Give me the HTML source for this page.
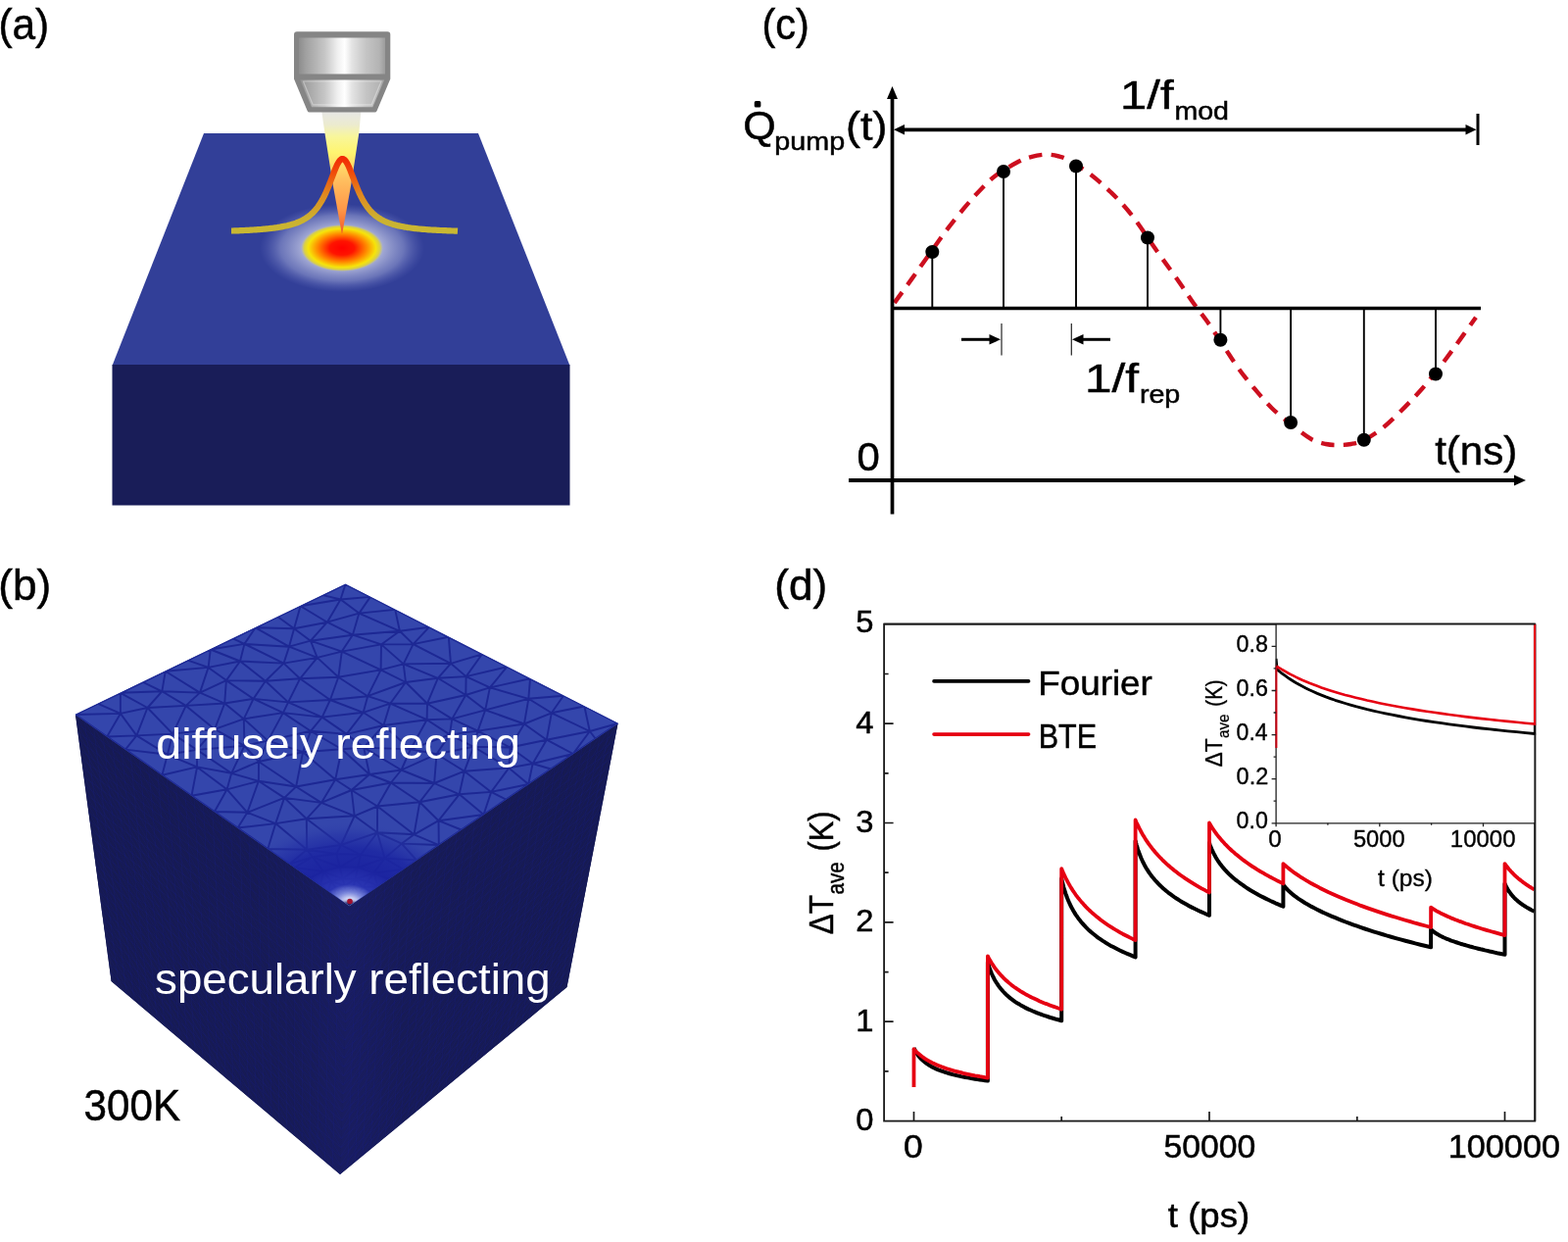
<!DOCTYPE html>
<html lang="en">
<head>
<meta charset="utf-8">
<title>Figure: pump heating, mesh, modulation and temperature rise</title>
<style>
html,body{margin:0;padding:0;background:#fff;}
body{width:1600px;height:1267px;overflow:hidden;}
svg{display:block;}
text{font-family:"Liberation Sans",sans-serif;}
</style>
</head>
<body>
<svg width="1600" height="1267" viewBox="0 0 1600 1267">
<defs>
<radialGradient id="glow" cx="0.5" cy="0.5" r="0.5">
<stop offset="0" stop-color="#fff" stop-opacity="0.8"/>
<stop offset="0.45" stop-color="#e8eaf8" stop-opacity="0.68"/>
<stop offset="0.75" stop-color="#c0c6ea" stop-opacity="0.4"/>
<stop offset="1" stop-color="#8088d0" stop-opacity="0"/>
</radialGradient>
<radialGradient id="hot" cx="0.5" cy="0.5" r="0.5">
<stop offset="0" stop-color="#ff0000"/>
<stop offset="0.3" stop-color="#ff1400"/>
<stop offset="0.6" stop-color="#ff8a00"/>
<stop offset="0.82" stop-color="#f6e40a"/>
<stop offset="0.92" stop-color="#e6d820" stop-opacity="0.8"/>
<stop offset="1" stop-color="#d8d060" stop-opacity="0"/>
</radialGradient>
<linearGradient id="beam" x1="0" y1="115" x2="0" y2="238" gradientUnits="userSpaceOnUse">
<stop offset="0" stop-color="#e6e6e2" stop-opacity="0.95"/>
<stop offset="0.1" stop-color="#ecebcf"/>
<stop offset="0.2" stop-color="#f8f69a"/>
<stop offset="0.33" stop-color="#fff570"/>
<stop offset="0.55" stop-color="#ffc060"/>
<stop offset="0.8" stop-color="#ff9848"/>
<stop offset="1" stop-color="#f05a28"/>
</linearGradient>
<linearGradient id="gauss" x1="0" y1="160" x2="0" y2="238" gradientUnits="userSpaceOnUse">
<stop offset="0" stop-color="#f22a05"/>
<stop offset="0.2" stop-color="#f04a0a"/>
<stop offset="0.5" stop-color="#e08a20"/>
<stop offset="0.8" stop-color="#ccb030"/>
<stop offset="1" stop-color="#c8b832"/>
</linearGradient>
<linearGradient id="metal" x1="305" y1="0" x2="393" y2="0" gradientUnits="userSpaceOnUse">
<stop offset="0" stop-color="#8e8e8e"/>
<stop offset="0.08" stop-color="#a0a0a0"/>
<stop offset="0.3" stop-color="#c6c6c6"/>
<stop offset="0.45" stop-color="#f0f0f0"/>
<stop offset="0.53" stop-color="#ffffff"/>
<stop offset="0.62" stop-color="#e2e2e2"/>
<stop offset="0.78" stop-color="#c4c4c4"/>
<stop offset="0.93" stop-color="#b4b4b4"/>
<stop offset="1" stop-color="#9c9c9c"/>
</linearGradient>
<clipPath id="ctop"><polygon points="352.5,596 630.5,738 356.5,924 77,729"/></clipPath>
<linearGradient id="gl" x1="77" y1="0" x2="356" y2="0" gradientUnits="userSpaceOnUse">
<stop offset="0" stop-color="#161a52"/><stop offset="0.8" stop-color="#171b56"/><stop offset="1" stop-color="#191d60"/></linearGradient>
<linearGradient id="gr" x1="356" y1="0" x2="630" y2="0" gradientUnits="userSpaceOnUse">
<stop offset="0" stop-color="#191d60"/><stop offset="0.2" stop-color="#171b56"/><stop offset="1" stop-color="#161a52"/></linearGradient>
<radialGradient id="fun" cx="0" cy="0" r="0.3" gradientUnits="userSpaceOnUse">
<stop offset="0" stop-color="#ffffff" stop-opacity="0.95"/>
<stop offset="0.05" stop-color="#dfe4ff" stop-opacity="0.9"/>
<stop offset="0.12" stop-color="#8894e6" stop-opacity="0.85"/>
<stop offset="0.22" stop-color="#2a34b4" stop-opacity="0.9"/>
<stop offset="0.45" stop-color="#1a22a0" stop-opacity="0.92"/>
<stop offset="0.68" stop-color="#1c26a2" stop-opacity="0.85"/>
<stop offset="0.85" stop-color="#2430a6" stop-opacity="0.5"/>
<stop offset="1" stop-color="#3040aa" stop-opacity="0"/>
</radialGradient>
<filter id="blur2" x="-30%" y="-30%" width="160%" height="160%"><feGaussianBlur stdDeviation="1.6"/></filter>
<filter id="blur4" x="-20%" y="-20%" width="140%" height="140%"><feGaussianBlur stdDeviation="4"/></filter>
<clipPath id="cins"><rect x="1301.8" y="636.6" width="265.5" height="203.2"/></clipPath>
</defs>
<rect width="1600" height="1267" fill="#fff"/>
<g id="panel-a">
<text x="-1.6" y="39.6" font-size="45" textLength="51.8" lengthAdjust="spacingAndGlyphs" stroke="#000" stroke-width="0.5">(a)</text>
<polygon points="208,136 488,136 581.3,372.5 114.7,372.5" fill="#323f98"/>
<rect x="114.5" y="372" width="467" height="143.5" fill="#191d58"/>
<ellipse cx="349" cy="253" rx="84" ry="45" fill="url(#glow)"/>
<ellipse cx="349" cy="253" rx="42" ry="24" fill="url(#hot)"/>
<path d="M328.3,114 L368.3,114 L366.3,136 Q359,188 349.3,238 L348.7,238 Q339,188 331.5,136 Z" fill="url(#beam)"/>
<path d="M236,235.5 L237.5,235.5 L239,235.4 L240.5,235.4 L242,235.3 L243.5,235.3 L245,235.2 L246.5,235.1 L248,235.1 L249.5,235 L251,234.9 L252.5,234.9 L254,234.8 L255.5,234.7 L257,234.6 L258.5,234.5 L260,234.4 L261.5,234.3 L263,234.2 L264.5,234.1 L266,234 L267.5,233.8 L269,233.7 L270.5,233.6 L272,233.4 L273.5,233.3 L275,233.1 L276.5,232.9 L278,232.8 L279.5,232.6 L281,232.4 L282.5,232.2 L284,231.9 L285.5,231.7 L287,231.4 L288.5,231.1 L290,230.8 L291.5,230.5 L293,230.2 L294.5,229.8 L296,229.4 L297.5,229 L299,228.6 L300.5,228.1 L302,227.6 L303.5,227 L305,226.4 L306.5,225.7 L308,225 L309.5,224.2 L311,223.3 L312.5,222.4 L314,221.4 L315.5,220.3 L317,219 L318.5,217.7 L320,216.2 L321.5,214.6 L323,212.8 L324.5,210.8 L326,208.6 L327.5,206.2 L329,203.6 L330.5,200.8 L332,197.7 L333.5,194.3 L335,190.7 L336.5,187 L338,183 L339.5,179.1 L341,175.2 L342.5,171.5 L344,168.1 L345.5,165.4 L347,163.4 L348.5,162.2 L350,162.1 L351.5,162.9 L353,164.6 L354.5,167.1 L356,170.3 L357.5,173.9 L359,177.8 L360.5,181.7 L362,185.7 L363.5,189.5 L365,193.1 L366.5,196.6 L368,199.8 L369.5,202.7 L371,205.4 L372.5,207.8 L374,210.1 L375.5,212.1 L377,214 L378.5,215.7 L380,217.2 L381.5,218.6 L383,219.9 L384.5,221 L386,222.1 L387.5,223 L389,223.9 L390.5,224.7 L392,225.5 L393.5,226.2 L395,226.8 L396.5,227.4 L398,227.9 L399.5,228.4 L401,228.9 L402.5,229.3 L404,229.7 L405.5,230.1 L407,230.4 L408.5,230.7 L410,231 L411.5,231.3 L413,231.6 L414.5,231.8 L416,232.1 L417.5,232.3 L419,232.5 L420.5,232.7 L422,232.9 L423.5,233.1 L425,233.2 L426.5,233.4 L428,233.5 L429.5,233.7 L431,233.8 L432.5,233.9 L434,234 L435.5,234.2 L437,234.3 L438.5,234.4 L440,234.5 L441.5,234.6 L443,234.7 L444.5,234.7 L446,234.8 L447.5,234.9 L449,235 L450.5,235 L452,235.1 L453.5,235.2 L455,235.2 L456.5,235.3 L458,235.4 L459.5,235.4 L461,235.5 L462.5,235.5 L464,235.6 L465.5,235.6 L467,235.7" fill="none" stroke="url(#gauss)" stroke-width="6.2" stroke-linejoin="round"/>
<path d="M303,32.3 H395.3 Q398.3,32.3 398.3,35.3 V80.5 L384.6,113 Q384,114.6 382.5,114.6 H315.7 Q314.2,114.6 313.6,113 L300,80.5 V35.3 Q300,32.3 303,32.3 Z" fill="#858585"/>
<rect x="305" y="38.5" width="88" height="37" fill="url(#metal)"/>
<path d="M306.2,81.6 H392.2 L380.3,109.3 H318 Z" fill="url(#metal)"/>
<path d="M309.5,83 H389 L379.2,106.8 H319.2 Z" fill="none" stroke="#fff" stroke-opacity="0.35" stroke-width="1.2"/>
</g>
<g id="panel-b">
<text x="-1.7" y="612" font-size="45" textLength="53.9" lengthAdjust="spacingAndGlyphs" stroke="#000" stroke-width="0.5">(b)</text>
<polygon points="352.5,596 630.5,738 578.5,1007 347,1198 113.6,1001 77,729" fill="#171b56"/>
<polygon points="77,729 356.5,924 347,1198 113.6,1001" fill="url(#gl)"/>
<polygon points="356.5,924 630.5,738 578.5,1007 347,1198" fill="url(#gr)"/>
<polygon points="352.5,596 630.5,738 356.5,924 77,729" fill="#3446ac" stroke="#3040a4" stroke-width="0.8"/>
<path d="M86.3,735.5L121.4,1007.6M95.6,742L129.2,1014.1M104.9,748.5L136.9,1020.7M114.3,755L144.7,1027.3M123.6,761.5L152.5,1033.8M132.9,768L160.3,1040.4M142.2,774.5L168.1,1047M151.5,781L175.8,1053.5M160.8,787.5L183.6,1060.1M170.2,794L191.4,1066.7M179.5,800.5L199.2,1073.2M188.8,807L207,1079.8M198.1,813.5L214.7,1086.4M207.4,820L222.5,1092.9M216.8,826.5L230.3,1099.5M226.1,833L238.1,1106.1M235.4,839.5L245.9,1112.6M244.7,846L253.6,1119.2M254,852.5L261.4,1125.8M263.3,859L269.2,1132.3M272.6,865.5L277,1138.9M282,872L284.8,1145.5M291.3,878.5L292.5,1152M300.6,885L300.3,1158.6M309.9,891.5L308.1,1165.2M319.2,898L315.9,1171.7M328.6,904.5L323.7,1178.3M337.9,911L331.4,1184.9M347.2,917.5L339.2,1191.4M78.2,738.1L356.2,933.1M79.4,747.1L355.9,942.3M80.7,756.2L355.6,951.4M81.9,765.3L355.2,960.5M83.1,774.3L354.9,969.7M84.3,783.4L354.6,978.8M85.5,792.5L354.3,987.9M86.8,801.5L354,997.1M88,810.6L353.6,1006.2M89.2,819.7L353.3,1015.3M90.4,828.7L353,1024.5M91.6,837.8L352.7,1033.6M92.9,846.9L352.4,1042.7M94.1,855.9L352.1,1051.9M95.3,865L351.8,1061M96.5,874.1L351.4,1070.1M97.7,883.1L351.1,1079.3M99,892.2L350.8,1088.4M100.2,901.3L350.5,1097.5M101.4,910.3L350.2,1106.7M102.6,919.4L349.9,1115.8M103.8,928.5L349.5,1124.9M105.1,937.5L349.2,1134.1M106.3,946.6L348.9,1143.2M107.5,955.7L348.6,1152.3M108.7,964.7L348.3,1161.5M109.9,973.8L347.9,1170.6M111.2,982.9L347.6,1179.7M112.4,991.9L347.3,1188.9M112.4,991.9L121.4,1007.6M111.2,982.9L129.2,1014.1M109.9,973.8L136.9,1020.7M108.7,964.7L144.7,1027.3M107.5,955.7L152.5,1033.8M106.3,946.6L160.3,1040.4M105.1,937.5L168.1,1047M103.8,928.5L175.8,1053.5M102.6,919.4L183.6,1060.1M101.4,910.3L191.4,1066.7M100.2,901.3L199.2,1073.2M99,892.2L207,1079.8M97.7,883.1L214.7,1086.4M96.5,874.1L222.5,1092.9M95.3,865L230.3,1099.5M94.1,855.9L238.1,1106.1M92.9,846.9L245.9,1112.6M91.6,837.8L253.6,1119.2M90.4,828.7L261.4,1125.8M89.2,819.7L269.2,1132.3M88,810.6L277,1138.9M86.8,801.5L284.8,1145.5M85.5,792.5L292.5,1152M84.3,783.4L300.3,1158.6M83.1,774.3L308.1,1165.2M81.9,765.3L315.9,1171.7M80.7,756.2L323.7,1178.3M79.4,747.1L331.4,1184.9M78.2,738.1L339.2,1191.4M77,729L347,1198M86.3,735.5L347.3,1188.9M95.6,742L347.6,1179.7M104.9,748.5L347.9,1170.6M114.3,755L348.3,1161.5M123.6,761.5L348.6,1152.3M132.9,768L348.9,1143.2M142.2,774.5L349.2,1134.1M151.5,781L349.5,1124.9M160.8,787.5L349.9,1115.8M170.2,794L350.2,1106.7M179.5,800.5L350.5,1097.5M188.8,807L350.8,1088.4M198.1,813.5L351.1,1079.3M207.4,820L351.4,1070.1M216.8,826.5L351.8,1061M226.1,833L352.1,1051.9M235.4,839.5L352.4,1042.7M244.7,846L352.7,1033.6M254,852.5L353,1024.5M263.3,859L353.3,1015.3M272.6,865.5L353.6,1006.2M282,872L354,997.1M291.3,878.5L354.3,987.9M300.6,885L354.6,978.8M309.9,891.5L354.9,969.7M319.2,898L355.2,960.5M328.6,904.5L355.6,951.4M337.9,911L355.9,942.3M347.2,917.5L356.2,933.1" fill="none" stroke="#1c22a0" stroke-opacity="0.16" stroke-width="0.9"/>
<path d="M621.4,744.2L570.8,1013.4M612.2,750.4L563.1,1019.7M603.1,756.6L555.4,1026.1M594,762.8L547.6,1032.5M584.8,769L539.9,1038.8M575.7,775.2L532.2,1045.2M566.6,781.4L524.5,1051.6M557.4,787.6L516.8,1057.9M548.3,793.8L509,1064.3M539.2,800L501.3,1070.7M530,806.2L493.6,1077M520.9,812.4L485.9,1083.4M511.8,818.6L478.2,1089.8M502.6,824.8L470.5,1096.1M493.5,831L462.8,1102.5M484.4,837.2L455,1108.9M475.2,843.4L447.3,1115.2M466.1,849.6L439.6,1121.6M457,855.8L431.9,1128M447.8,862L424.2,1134.3M438.7,868.2L416.5,1140.7M429.6,874.4L408.7,1147.1M420.4,880.6L401,1153.4M411.3,886.8L393.3,1159.8M402.2,893L385.6,1166.2M393,899.2L377.9,1172.5M383.9,905.4L370.1,1178.9M374.8,911.6L362.4,1185.3M365.6,917.8L354.7,1191.6M628.8,747L356.2,933.1M627,755.9L355.9,942.3M625.3,764.9L355.6,951.4M623.6,773.9L355.2,960.5M621.8,782.8L354.9,969.7M620.1,791.8L354.6,978.8M618.4,800.8L354.3,987.9M616.6,809.7L354,997.1M614.9,818.7L353.6,1006.2M613.2,827.7L353.3,1015.3M611.4,836.6L353,1024.5M609.7,845.6L352.7,1033.6M608,854.6L352.4,1042.7M606.2,863.5L352.1,1051.9M604.5,872.5L351.8,1061M602.8,881.5L351.4,1070.1M601,890.4L351.1,1079.3M599.3,899.4L350.8,1088.4M597.6,908.4L350.5,1097.5M595.8,917.3L350.2,1106.7M594.1,926.3L349.9,1115.8M592.4,935.3L349.5,1124.9M590.6,944.2L349.2,1134.1M588.9,953.2L348.9,1143.2M587.2,962.2L348.6,1152.3M585.4,971.1L348.3,1161.5M583.7,980.1L347.9,1170.6M582,989.1L347.6,1179.7M580.2,998L347.3,1188.9M580.2,998L570.8,1013.4M582,989.1L563.1,1019.7M583.7,980.1L555.4,1026.1M585.4,971.1L547.6,1032.5M587.2,962.2L539.9,1038.8M588.9,953.2L532.2,1045.2M590.6,944.2L524.5,1051.6M592.4,935.3L516.8,1057.9M594.1,926.3L509,1064.3M595.8,917.3L501.3,1070.7M597.6,908.4L493.6,1077M599.3,899.4L485.9,1083.4M601,890.4L478.2,1089.8M602.8,881.5L470.5,1096.1M604.5,872.5L462.8,1102.5M606.2,863.5L455,1108.9M608,854.6L447.3,1115.2M609.7,845.6L439.6,1121.6M611.4,836.6L431.9,1128M613.2,827.7L424.2,1134.3M614.9,818.7L416.5,1140.7M616.6,809.7L408.7,1147.1M618.4,800.8L401,1153.4M620.1,791.8L393.3,1159.8M621.8,782.8L385.6,1166.2M623.6,773.9L377.9,1172.5M625.3,764.9L370.1,1178.9M627,755.9L362.4,1185.3M628.8,747L354.7,1191.6M630.5,738L347,1198M621.4,744.2L347.3,1188.9M612.2,750.4L347.6,1179.7M603.1,756.6L347.9,1170.6M594,762.8L348.3,1161.5M584.8,769L348.6,1152.3M575.7,775.2L348.9,1143.2M566.6,781.4L349.2,1134.1M557.4,787.6L349.5,1124.9M548.3,793.8L349.9,1115.8M539.2,800L350.2,1106.7M530,806.2L350.5,1097.5M520.9,812.4L350.8,1088.4M511.8,818.6L351.1,1079.3M502.6,824.8L351.4,1070.1M493.5,831L351.8,1061M484.4,837.2L352.1,1051.9M475.2,843.4L352.4,1042.7M466.1,849.6L352.7,1033.6M457,855.8L353,1024.5M447.8,862L353.3,1015.3M438.7,868.2L353.6,1006.2M429.6,874.4L354,997.1M420.4,880.6L354.3,987.9M411.3,886.8L354.6,978.8M402.2,893L354.9,969.7M393,899.2L355.2,960.5M383.9,905.4L355.6,951.4M374.8,911.6L355.9,942.3M365.6,917.8L356.2,933.1" fill="none" stroke="#1c22a0" stroke-opacity="0.16" stroke-width="0.9"/>
<g clip-path="url(#ctop)">
<path d="M352.5,596L377.9,608.9M352.5,596L329.5,607.1M352.5,596L347.5,611.5M377.9,608.9L403.2,621.9M377.9,608.9L347.5,611.5M377.9,608.9L366.4,625.6M403.2,621.9L438,639.7M403.2,621.9L366.4,625.6M403.2,621.9L407.9,643.8M438,639.7L457.8,649.8M438,639.7L407.9,643.8M438,639.7L421.6,657.1M457.8,649.8L492,667.3M457.8,649.8L421.6,657.1M457.8,649.8L460,676.8M492,667.3L517.4,680.2M492,667.3L460,676.8M492,667.3L475.6,690.1M517.4,680.2L541,692.3M517.4,680.2L475.6,690.1M517.4,680.2L499.9,701.4M541,692.3L575,709.7M541,692.3L499.9,701.4M541,692.3L539.3,712.8M575,709.7L596.3,720.5M575,709.7L539.3,712.8M575,709.7L562.8,727.3M596.3,720.5L630.5,738M596.3,720.5L562.8,727.3M596.3,720.5L601.8,746M630.5,738L601.8,746M630.5,738L607.7,753.5M329.5,607.1L347.5,611.5M329.5,607.1L306.6,618.2M347.5,611.5L366.4,625.6M347.5,611.5L306.6,618.2M347.5,611.5L333.9,634.7M366.4,625.6L407.9,643.8M366.4,625.6L333.9,634.7M366.4,625.6L359.9,647.7M407.9,643.8L421.6,657.1M407.9,643.8L359.9,647.7M407.9,643.8L389,657.4M421.6,657.1L460,676.8M421.6,657.1L389,657.4M421.6,657.1L411.7,677.4M460,676.8L475.6,690.1M460,676.8L411.7,677.4M460,676.8L446.8,691.8M475.6,690.1L499.9,701.4M475.6,690.1L446.8,691.8M475.6,690.1L475.3,709M499.9,701.4L539.3,712.8M499.9,701.4L475.3,709M499.9,701.4L495.2,724.3M539.3,712.8L562.8,727.3M539.3,712.8L495.2,724.3M539.3,712.8L534.9,738.5M562.8,727.3L601.8,746M562.8,727.3L534.9,738.5M562.8,727.3L557.8,754.7M601.8,746L607.7,753.5M601.8,746L557.8,754.7M601.8,746L584.8,769M607.7,753.5L584.8,769M306.6,618.2L333.9,634.7M306.6,618.2L283.6,629.2M306.6,618.2L300.1,641.2M333.9,634.7L359.9,647.7M333.9,634.7L300.1,641.2M333.9,634.7L316.9,653.7M359.9,647.7L389,657.4M359.9,647.7L316.9,653.7M359.9,647.7L348.8,664.6M389,657.4L411.7,677.4M389,657.4L348.8,664.6M389,657.4L388.6,683.4M411.7,677.4L446.8,691.8M411.7,677.4L388.6,683.4M411.7,677.4L414,696M446.8,691.8L475.3,709M446.8,691.8L414,696M446.8,691.8L436,717.7M475.3,709L495.2,724.3M475.3,709L436,717.7M475.3,709L461.3,733.4M495.2,724.3L534.9,738.5M495.2,724.3L461.3,733.4M495.2,724.3L487.6,745.6M534.9,738.5L557.8,754.7M534.9,738.5L487.6,745.6M534.9,738.5L520.6,762.5M557.8,754.7L584.8,769M557.8,754.7L520.6,762.5M557.8,754.7L543.6,779M584.8,769L543.6,779M584.8,769L562,784.5M283.6,629.2L300.1,641.2M283.6,629.2L260.7,640.3M300.1,641.2L316.9,653.7M300.1,641.2L260.7,640.3M300.1,641.2L295,659.7M316.9,653.7L348.8,664.6M316.9,653.7L295,659.7M316.9,653.7L323.7,670.9M348.8,664.6L388.6,683.4M348.8,664.6L323.7,670.9M348.8,664.6L345.3,690.8M388.6,683.4L414,696M388.6,683.4L345.3,690.8M388.6,683.4L375.2,710.2M414,696L436,717.7M414,696L375.2,710.2M414,696L398.2,717.7M436,717.7L461.3,733.4M436,717.7L398.2,717.7M436,717.7L435.6,734.2M461.3,733.4L487.6,745.6M461.3,733.4L435.6,734.2M461.3,733.4L458.9,749.4M487.6,745.6L520.6,762.5M487.6,745.6L458.9,749.4M487.6,745.6L483.2,761.8M520.6,762.5L543.6,779M520.6,762.5L483.2,761.8M520.6,762.5L519.3,783.4M543.6,779L562,784.5M543.6,779L519.3,783.4M543.6,779L539.2,800M562,784.5L539.2,800M260.7,640.3L295,659.7M260.7,640.3L237.7,651.4M260.7,640.3L249.4,656.9M295,659.7L323.7,670.9M295,659.7L249.4,656.9M295,659.7L289.5,676.6M323.7,670.9L345.3,690.8M323.7,670.9L289.5,676.6M323.7,670.9L306.1,692.3M345.3,690.8L375.2,710.2M345.3,690.8L306.1,692.3M345.3,690.8L336.9,714M375.2,710.2L398.2,717.7M375.2,710.2L336.9,714M375.2,710.2L370.7,726.8M398.2,717.7L435.6,734.2M398.2,717.7L370.7,726.8M398.2,717.7L391.4,740M435.6,734.2L458.9,749.4M435.6,734.2L391.4,740M435.6,734.2L418.9,764.4M458.9,749.4L483.2,761.8M458.9,749.4L418.9,764.4M458.9,749.4L445.5,769.3M483.2,761.8L519.3,783.4M483.2,761.8L445.5,769.3M483.2,761.8L473.9,786.7M519.3,783.4L539.2,800M519.3,783.4L473.9,786.7M519.3,783.4L501.2,807.9M539.2,800L501.2,807.9M539.2,800L516.3,815.5M237.7,651.4L249.4,656.9M237.7,651.4L214.8,662.5M249.4,656.9L289.5,676.6M249.4,656.9L214.8,662.5M249.4,656.9L245,674.5M289.5,676.6L306.1,692.3M289.5,676.6L245,674.5M289.5,676.6L270.9,694.7M306.1,692.3L336.9,714M306.1,692.3L270.9,694.7M306.1,692.3L294.1,716.4M336.9,714L370.7,726.8M336.9,714L294.1,716.4M336.9,714L328.7,731.6M370.7,726.8L391.4,740M370.7,726.8L328.7,731.6M370.7,726.8L353.7,748.9M391.4,740L418.9,764.4M391.4,740L353.7,748.9M391.4,740L371.2,762.6M418.9,764.4L445.5,769.3M418.9,764.4L371.2,762.6M418.9,764.4L409.5,785.5M445.5,769.3L473.9,786.7M445.5,769.3L409.5,785.5M445.5,769.3L443.1,799M473.9,786.7L501.2,807.9M473.9,786.7L443.1,799M473.9,786.7L468.7,810.3M501.2,807.9L516.3,815.5M501.2,807.9L468.7,810.3M501.2,807.9L493.5,831M516.3,815.5L493.5,831M214.8,662.5L245,674.5M214.8,662.5L191.8,673.6M214.8,662.5L212.6,680.9M245,674.5L270.9,694.7M245,674.5L212.6,680.9M245,674.5L230.9,694.1M270.9,694.7L294.1,716.4M270.9,694.7L230.9,694.1M270.9,694.7L258.6,712.9M294.1,716.4L328.7,731.6M294.1,716.4L258.6,712.9M294.1,716.4L288.9,727.1M328.7,731.6L353.7,748.9M328.7,731.6L288.9,727.1M328.7,731.6L317,745.8M353.7,748.9L371.2,762.6M353.7,748.9L317,745.8M353.7,748.9L348.7,764.3M371.2,762.6L409.5,785.5M371.2,762.6L348.7,764.3M371.2,762.6L377,790M409.5,785.5L443.1,799M409.5,785.5L377,790M409.5,785.5L398.9,798.5M443.1,799L468.7,810.3M443.1,799L398.9,798.5M443.1,799L428.3,818.2M468.7,810.3L493.5,831M468.7,810.3L428.3,818.2M468.7,810.3L447.5,837.2M493.5,831L447.5,837.2M493.5,831L470.7,846.5M191.8,673.6L212.6,680.9M191.8,673.6L168.8,684.7M212.6,680.9L230.9,694.1M212.6,680.9L168.8,684.7M212.6,680.9L204,706.6M230.9,694.1L258.6,712.9M230.9,694.1L204,706.6M230.9,694.1L229.2,717.5M258.6,712.9L288.9,727.1M258.6,712.9L229.2,717.5M258.6,712.9L248.8,733.4M288.9,727.1L317,745.8M288.9,727.1L248.8,733.4M288.9,727.1L273.4,755.6M317,745.8L348.7,764.3M317,745.8L273.4,755.6M317,745.8L309.1,767.2M348.7,764.3L377,790M348.7,764.3L309.1,767.2M348.7,764.3L342.2,795.3M377,790L398.9,798.5M377,790L342.2,795.3M377,790L358.7,806M398.9,798.5L428.3,818.2M398.9,798.5L358.7,806M398.9,798.5L385.1,822.5M428.3,818.2L447.5,837.2M428.3,818.2L385.1,822.5M428.3,818.2L422.5,851.3M447.5,837.2L470.7,846.5M447.5,837.2L422.5,851.3M447.5,837.2L447.8,862M470.7,846.5L447.8,862M168.8,684.7L204,706.6M168.8,684.7L145.9,695.8M168.8,684.7L165.3,705.3M204,706.6L229.2,717.5M204,706.6L165.3,705.3M204,706.6L189.7,719.9M229.2,717.5L248.8,733.4M229.2,717.5L189.7,719.9M229.2,717.5L219.1,743.9M248.8,733.4L273.4,755.6M248.8,733.4L219.1,743.9M248.8,733.4L249.4,760.8M273.4,755.6L309.1,767.2M273.4,755.6L249.4,760.8M273.4,755.6L264,777M309.1,767.2L342.2,795.3M309.1,767.2L264,777M309.1,767.2L302.1,802.5M342.2,795.3L358.7,806M342.2,795.3L302.1,802.5M342.2,795.3L327.9,818.9M358.7,806L385.1,822.5M358.7,806L327.9,818.9M358.7,806L361.7,832.3M385.1,822.5L422.5,851.3M385.1,822.5L361.7,832.3M385.1,822.5L385,849.3M422.5,851.3L447.8,862M422.5,851.3L385,849.3M422.5,851.3L409.9,860.6M447.8,862L409.9,860.6M447.8,862L425,877.5M145.9,695.8L165.3,705.3M145.9,695.8L122.9,706.8M165.3,705.3L189.7,719.9M165.3,705.3L122.9,706.8M165.3,705.3L150.5,722M189.7,719.9L219.1,743.9M189.7,719.9L150.5,722M189.7,719.9L176.2,748.6M219.1,743.9L249.4,760.8M219.1,743.9L176.2,748.6M219.1,743.9L200.9,764.9M249.4,760.8L264,777M249.4,760.8L200.9,764.9M249.4,760.8L236.2,788.8M264,777L302.1,802.5M264,777L236.2,788.8M264,777L263.9,796.8M302.1,802.5L327.9,818.9M302.1,802.5L263.9,796.8M302.1,802.5L290.1,813.9M327.9,818.9L361.7,832.3M327.9,818.9L290.1,813.9M327.9,818.9L312.8,835.3M361.7,832.3L385,849.3M361.7,832.3L312.8,835.3M361.7,832.3L348,862M385,849.3L409.9,860.6M385,849.3L348,862M385,849.3L368,871.9M385,849.3L392.6,875.6M409.9,860.6L425,877.5M409.9,860.6L392.6,875.6M425,877.5L392.6,875.6M425,877.5L411.3,886.8M122.9,706.8L150.5,722M122.9,706.8L100,717.9M122.9,706.8L122.9,727.9M150.5,722L176.2,748.6M150.5,722L122.9,727.9M150.5,722L139.4,750.4M176.2,748.6L200.9,764.9M176.2,748.6L139.4,750.4M176.2,748.6L170.9,769.8M200.9,764.9L236.2,788.8M200.9,764.9L170.9,769.8M200.9,764.9L201.1,782.4M236.2,788.8L263.9,796.8M236.2,788.8L201.1,782.4M236.2,788.8L231.6,805.3M263.9,796.8L290.1,813.9M263.9,796.8L231.6,805.3M263.9,796.8L252.4,828.8M290.1,813.9L312.8,835.3M290.1,813.9L252.4,828.8M290.1,813.9L281.2,840.1M312.8,835.3L348,862M312.8,835.3L281.2,840.1M312.8,835.3L313.2,866.7M348,862L313.2,866.7M348,862L343.4,871M348,862L368,871.9M100,717.9L122.9,727.9M100,717.9L77,729M122.9,727.9L139.4,750.4M122.9,727.9L77,729M122.9,727.9L109.2,751.5M139.4,750.4L170.9,769.8M139.4,750.4L109.2,751.5M139.4,750.4L128,764.6M170.9,769.8L201.1,782.4M170.9,769.8L128,764.6M170.9,769.8L165.4,790.7M201.1,782.4L231.6,805.3M201.1,782.4L165.4,790.7M201.1,782.4L195.5,811.7M231.6,805.3L252.4,828.8M231.6,805.3L195.5,811.7M231.6,805.3L218.9,828M252.4,828.8L281.2,840.1M252.4,828.8L218.9,828M252.4,828.8L242.6,844.5M281.2,840.1L313.2,866.7M281.2,840.1L242.6,844.5M281.2,840.1L273.3,866M313.2,866.7L273.3,866M313.2,866.7L295.4,881.4M313.2,866.7L318.9,874.3M313.2,866.7L343.4,871M77,729L109.2,751.5M109.2,751.5L128,764.6M128,764.6L165.4,790.7M165.4,790.7L195.5,811.7M195.5,811.7L218.9,828M218.9,828L242.6,844.5M242.6,844.5L273.3,866M273.3,866L295.4,881.4M295.4,881.4L300.6,885M295.4,881.4L318.9,874.3M300.6,885L318.9,874.3M300.6,885L315.8,895.6M300.6,885L330.3,889.1M318.9,874.3L343.4,871M318.9,874.3L330.3,889.1M318.9,874.3L346.8,884.5M343.4,871L368,871.9M343.4,871L346.8,884.5M368,871.9L392.6,875.6M368,871.9L346.8,884.5M368,871.9L365.1,885M392.6,875.6L411.3,886.8M392.6,875.6L365.1,885M392.6,875.6L381.3,890.6M411.3,886.8L381.3,890.6M411.3,886.8L396.4,896.9M315.8,895.6L330.3,889.1M315.8,895.6L326.9,903.3M330.3,889.1L346.8,884.5M330.3,889.1L326.9,903.3M330.3,889.1L337.7,898.9M330.3,889.1L349.7,896.4M346.8,884.5L365.1,885M346.8,884.5L349.7,896.4M365.1,885L381.3,890.6M365.1,885L349.7,896.4M365.1,885L362.5,896.8M381.3,890.6L396.4,896.9M381.3,890.6L362.5,896.8M381.3,890.6L375.1,898.9M381.3,890.6L385.5,904.3M396.4,896.9L385.5,904.3M326.9,903.3L337.7,898.9M326.9,903.3L334.9,909M337.7,898.9L349.7,896.4M337.7,898.9L334.9,909M337.7,898.9L342.8,905.7M337.7,898.9L351.5,903.7M349.7,896.4L362.5,896.8M349.7,896.4L351.5,903.7M362.5,896.8L375.1,898.9M362.5,896.8L351.5,903.7M362.5,896.8L360.8,904.3M362.5,896.8L370.4,905.2M375.1,898.9L385.5,904.3M375.1,898.9L370.4,905.2M385.5,904.3L370.4,905.2M385.5,904.3L377.6,909.6M334.9,909L342.8,905.7M334.9,909L340.8,913M342.8,905.7L351.5,903.7M342.8,905.7L340.8,913M342.8,905.7L346.4,910.6M342.8,905.7L352.9,909.1M351.5,903.7L360.8,904.3M351.5,903.7L352.9,909.1M360.8,904.3L370.4,905.2M360.8,904.3L352.9,909.1M360.8,904.3L359.7,909.1M360.8,904.3L366.6,910.3M370.4,905.2L377.6,909.6M370.4,905.2L366.6,910.3M377.6,909.6L366.6,910.3M377.6,909.6L371.9,913.6M340.8,913L346.4,910.6M340.8,913L345.1,916M346.4,910.6L352.9,909.1M346.4,910.6L345.1,916M346.4,910.6L349.1,914.2M346.4,910.6L353.8,912.8M352.9,909.1L359.7,909.1M352.9,909.1L353.8,912.8M359.7,909.1L366.6,910.3M359.7,909.1L353.8,912.8M359.7,909.1L358.8,913.2M359.7,909.1L363.6,914.3M366.6,910.3L371.9,913.6M366.6,910.3L363.6,914.3M371.9,913.6L363.6,914.3M371.9,913.6L367.7,916.4M345.1,916L349.1,914.2M345.1,916L348.2,918.2M349.1,914.2L353.8,912.8M349.1,914.2L348.2,918.2M349.1,914.2L351.9,916.5M353.8,912.8L358.8,913.2M353.8,912.8L351.9,916.5M353.8,912.8L356.4,916.3M358.8,913.2L363.6,914.3M358.8,913.2L356.4,916.3M358.8,913.2L360.8,916.7M363.6,914.3L367.7,916.4M363.6,914.3L360.8,916.7M363.6,914.3L364.7,918.5M367.7,916.4L364.7,918.5M348.2,918.2L351.9,916.5M348.2,918.2L351,920.2M351.9,916.5L356.4,916.3M351.9,916.5L351,920.2M351.9,916.5L354.5,919M356.4,916.3L360.8,916.7M356.4,916.3L354.5,919M356.4,916.3L358.3,919.1M360.8,916.7L364.7,918.5M360.8,916.7L358.3,919.1M360.8,916.7L361.9,920.4M364.7,918.5L361.9,920.4M351,920.2L354.5,919M351,920.2L356.5,924M354.5,919L358.3,919.1M354.5,919L356.5,924M358.3,919.1L361.9,920.4M358.3,919.1L356.5,924M361.9,920.4L356.5,924" fill="none" stroke="#1d2894" stroke-width="1.9" stroke-linecap="round"/>
<circle cx="0" cy="0" r="0.3" fill="url(#fun)" transform="matrix(-279.50 -195.00 274.00 -186.00 357 920)"/>
<ellipse cx="356.7" cy="925" rx="11" ry="5.5" fill="#181c62" filter="url(#blur2)"/>
</g>
<circle cx="357" cy="919.5" r="2.8" fill="#a0102e"/>
<text x="159.3" y="774.2" font-size="45" fill="#fff" textLength="371.7" lengthAdjust="spacingAndGlyphs">diffusely reflecting</text>
<text x="158.1" y="1014.2" font-size="45" fill="#fff" textLength="403.5" lengthAdjust="spacingAndGlyphs">specularly reflecting</text>
<text x="85.6" y="1142.8" font-size="43.8" textLength="98.4" lengthAdjust="spacingAndGlyphs" stroke="#000" stroke-width="0.5">300K</text>
</g>
<g id="panel-c">
<path d="M912.7,308.9 C916.4,303.8 926.5,290 935,278.1 C943.5,266.2 955.6,248.7 963.7,237.7 C971.9,226.7 977.9,219.4 983.9,212.2 C989.9,204.9 994.6,199.7 999.9,194.2 C1005.2,188.7 1009.4,184.1 1015.8,179.3 C1022.2,174.5 1031.9,168.8 1038.1,165.5 C1044.3,162.2 1048,161.1 1053,159.8 C1058,158.5 1063.3,157.7 1067.9,157.6 C1072.5,157.5 1076.7,158.5 1080.6,159.5 C1084.5,160.5 1085.9,160.8 1091.2,163.8 C1096.5,166.9 1105.4,172.4 1112.5,177.8 C1119.6,183.2 1126.6,189.3 1133.7,196.3 C1140.8,203.3 1146.8,209.2 1155,219.7 C1163.2,230.1 1174.4,247.5 1182.6,259 C1190.8,270.5 1197.8,280 1203.9,288.7 C1210,297.4 1214.4,304.4 1219.1,311 C1223.8,317.6 1226.9,320.9 1231.9,328 C1236.9,335.1 1243.6,345.5 1248.9,353.5 C1254.2,361.5 1258.6,368.7 1263.7,375.8 C1268.8,382.9 1274,389.3 1279.7,396 C1285.4,402.7 1291.2,409.8 1297.7,416.2 C1304.2,422.6 1312.3,428.9 1319,434.2 C1325.7,439.5 1332.4,444.9 1338.1,448 C1343.8,451.1 1348.4,452 1353,453 C1357.6,454 1361.5,454 1365.7,454 C1370,454 1374.1,453.9 1378.5,453 C1382.9,452.1 1386.6,451.6 1392.3,448.7 C1398,445.8 1405.6,440.9 1412.5,435.3 C1419.4,429.7 1427.3,421.5 1433.7,415.1 C1440.1,408.7 1445.4,403 1450.7,397 C1456,391 1459.9,386.2 1465.6,379 C1471.3,371.8 1478,362.7 1484.7,353.5 C1491.4,344.3 1502.5,328.7 1506,323.7" fill="none" stroke="#cc0f1f" stroke-width="4.4" stroke-dasharray="13.5 9.3"/>
<line x1="951.3" y1="314" x2="951.3" y2="257" stroke="#000" stroke-width="1.9"/>
<circle cx="951.3" cy="257" r="7" fill="#000"/>
<line x1="1024" y1="314" x2="1024" y2="175" stroke="#000" stroke-width="1.9"/>
<circle cx="1024" cy="175" r="7" fill="#000"/>
<line x1="1098" y1="314" x2="1098" y2="169.5" stroke="#000" stroke-width="1.9"/>
<circle cx="1098" cy="169.5" r="7" fill="#000"/>
<line x1="1171" y1="314" x2="1171" y2="242.5" stroke="#000" stroke-width="1.9"/>
<circle cx="1171" cy="242.5" r="7" fill="#000"/>
<line x1="1245.4" y1="314" x2="1245.4" y2="346.7" stroke="#000" stroke-width="1.9"/>
<circle cx="1245.4" cy="346.7" r="7" fill="#000"/>
<line x1="1317.1" y1="314" x2="1317.1" y2="431" stroke="#000" stroke-width="1.9"/>
<circle cx="1317.1" cy="431" r="7" fill="#000"/>
<line x1="1391.8" y1="314" x2="1391.8" y2="448.7" stroke="#000" stroke-width="1.9"/>
<circle cx="1391.8" cy="448.7" r="7" fill="#000"/>
<line x1="1465" y1="314" x2="1465" y2="381.5" stroke="#000" stroke-width="1.9"/>
<circle cx="1465" cy="381.5" r="7" fill="#000"/>
<path d="M910.5,524.5 V96" stroke="#000" stroke-width="3.7" fill="none"/>
<polygon points="910.5,88 905,101 916,101" fill="#000"/>
<path d="M866,490 H1546" stroke="#000" stroke-width="3.8" fill="none"/>
<polygon points="1557,490 1545,484.5 1545,495.5" fill="#000"/>
<path d="M910.5,314.5 H1511" stroke="#000" stroke-width="3.7" fill="none"/>
<path d="M920,132.3 H1497" stroke="#000" stroke-width="3.7" fill="none"/>
<polygon points="912,132.3 923,127 923,137.6" fill="#000"/>
<polygon points="1506.5,132.3 1495.5,127 1495.5,137.6" fill="#000"/>
<path d="M1508,116 V148" stroke="#000" stroke-width="3" fill="none"/>
<path d="M981,346.3 H1012" stroke="#000" stroke-width="3" fill="none"/>
<polygon points="1021,346.3 1009.5,341 1009.5,351.6" fill="#000"/>
<path d="M1022,330 V362.5" stroke="#222" stroke-width="1.2" fill="none"/>
<path d="M1133,346.3 H1103" stroke="#000" stroke-width="3" fill="none"/>
<polygon points="1094,346.3 1105.5,341 1105.5,351.6" fill="#000"/>
<path d="M1093.3,330 V362.5" stroke="#222" stroke-width="1.2" fill="none"/>
<text x="777.5" y="39.6" font-size="45" textLength="48.4" lengthAdjust="spacingAndGlyphs" stroke="#000" stroke-width="0.5">(c)</text>
<text x="758.3" y="142.2" font-size="40.5" textLength="33.5" lengthAdjust="spacingAndGlyphs" stroke="#000" stroke-width="0.5">Q</text>
<text x="768.3" y="133.6" font-size="40" stroke="#000" stroke-width="3.1" stroke-linejoin="round">˙</text>
<text x="790.3" y="152.5" font-size="26.5" textLength="71.8" lengthAdjust="spacingAndGlyphs" stroke="#000" stroke-width="0.5">pump</text>
<text x="863.1" y="142.5" font-size="41" textLength="42.4" lengthAdjust="spacingAndGlyphs" stroke="#000" stroke-width="0.5">(t)</text>
<text x="1143.1" y="111" font-size="40" textLength="54.4" lengthAdjust="spacingAndGlyphs" stroke="#000" stroke-width="0.5">1/f</text>
<text x="1198.4" y="122" font-size="26" textLength="55.6" lengthAdjust="spacingAndGlyphs" stroke="#000" stroke-width="0.5">mod</text>
<text x="1107.1" y="400" font-size="40" textLength="55" lengthAdjust="spacingAndGlyphs" stroke="#000" stroke-width="0.5">1/f</text>
<text x="1162.9" y="411" font-size="26" textLength="41.4" lengthAdjust="spacingAndGlyphs" stroke="#000" stroke-width="0.5">rep</text>
<text x="874.6" y="480.2" font-size="40.5" textLength="23.3" lengthAdjust="spacingAndGlyphs" stroke="#000" stroke-width="0.5">0</text>
<text x="1464.2" y="473.5" font-size="41" textLength="84.1" lengthAdjust="spacingAndGlyphs" stroke="#000" stroke-width="0.5">t(ns)</text>
</g>
<g id="panel-d">
<text x="790.3" y="612" font-size="45" textLength="53.9" lengthAdjust="spacingAndGlyphs" stroke="#000" stroke-width="0.5">(d)</text>
<path d="M932.5,1069.1 L932.5,1069.1 L932.6,1069.3 L932.7,1069.6 L933,1070.1 L933.3,1070.8 L933.7,1071.5 L934.2,1072.4 L934.7,1073.3 L935.3,1074.3 L935.9,1075.3 L936.7,1076.3 L937.4,1077.3 L938.3,1078.3 L939.2,1079.3 L940.1,1080.3 L941.1,1081.3 L942.2,1082.3 L943.3,1083.2 L944.5,1084.2 L945.7,1085 L947,1085.9 L948.3,1086.8 L949.7,1087.6 L951.1,1088.4 L952.6,1089.1 L954.1,1089.9 L955.7,1090.6 L957.4,1091.3 L959,1091.9 L960.8,1092.6 L962.6,1093.2 L964.4,1093.8 L966.3,1094.4 L968.2,1095 L970.1,1095.5 L972.2,1096.1 L974.2,1096.6 L976.3,1097.1 L978.5,1097.6 L980.7,1098.1 L982.9,1098.5 L985.2,1099 L987.6,1099.4 L990,1099.9 L992.4,1100.3 L994.9,1100.7 L997.4,1101.1 L999.9,1101.5 L1002.5,1101.8 L1005.2,1102.2 L1007.9,1102.6 L1007.9,981.4 L1007.9,981.7 L1008.1,982.3 L1008.4,983.1 L1008.7,984.2 L1009.1,985.5 L1009.5,986.9 L1010.1,988.5 L1010.7,990.1 L1011.3,991.7 L1012,993.5 L1012.8,995.2 L1013.7,996.9 L1014.5,998.7 L1015.5,1000.4 L1016.5,1002.1 L1017.6,1003.7 L1018.7,1005.4 L1019.9,1007 L1021.1,1008.5 L1022.4,1010 L1023.7,1011.5 L1025.1,1013 L1026.5,1014.4 L1028,1015.7 L1029.5,1017.1 L1031.1,1018.4 L1032.7,1019.6 L1034.4,1020.9 L1036.1,1022.1 L1037.9,1023.2 L1039.8,1024.3 L1041.6,1025.4 L1043.6,1026.5 L1045.5,1027.6 L1047.5,1028.6 L1049.6,1029.6 L1051.7,1030.5 L1053.9,1031.5 L1056.1,1032.4 L1058.3,1033.3 L1060.6,1034.2 L1062.9,1035 L1065.3,1035.9 L1067.8,1036.7 L1070.2,1037.5 L1072.7,1038.3 L1075.3,1039 L1077.9,1039.8 L1080.6,1040.5 L1083.2,1041.2 L1083.2,896.3 L1083.3,896.6 L1083.5,897.4 L1083.7,898.4 L1084,899.8 L1084.4,901.4 L1084.9,903.2 L1085.4,905.2 L1086,907.2 L1086.7,909.4 L1087.4,911.6 L1088.2,913.8 L1089,916 L1089.9,918.2 L1090.9,920.5 L1091.9,922.7 L1092.9,924.8 L1094.1,926.9 L1095.2,929 L1096.5,931.1 L1097.7,933.1 L1099.1,935 L1100.4,937 L1101.9,938.8 L1103.4,940.7 L1104.9,942.4 L1106.5,944.2 L1108.1,945.9 L1109.8,947.6 L1111.5,949.2 L1113.3,950.8 L1115.1,952.3 L1117,953.8 L1118.9,955.3 L1120.9,956.8 L1122.9,958.2 L1125,959.6 L1127.1,960.9 L1129.2,962.3 L1131.4,963.6 L1133.7,964.9 L1136,966.1 L1138.3,967.3 L1140.7,968.5 L1143.1,969.7 L1145.6,970.9 L1148.1,972 L1150.7,973.1 L1153.3,974.2 L1155.9,975.3 L1158.6,976.4 L1158.6,857.8 L1158.7,858.1 L1158.9,858.7 L1159.1,859.7 L1159.4,860.9 L1159.8,862.3 L1160.3,863.9 L1160.8,865.6 L1161.4,867.4 L1162.1,869.3 L1162.8,871.3 L1163.6,873.3 L1164.4,875.3 L1165.3,877.3 L1166.2,879.3 L1167.3,881.3 L1168.3,883.3 L1169.4,885.2 L1170.6,887.1 L1171.8,889 L1173.1,890.9 L1174.4,892.7 L1175.8,894.5 L1177.3,896.3 L1178.7,898 L1180.3,899.7 L1181.9,901.4 L1183.5,903 L1185.2,904.6 L1186.9,906.2 L1188.7,907.7 L1190.5,909.3 L1192.4,910.8 L1194.3,912.2 L1196.3,913.7 L1198.3,915.1 L1200.4,916.5 L1202.5,917.8 L1204.6,919.2 L1206.8,920.5 L1209.1,921.8 L1211.4,923.1 L1213.7,924.4 L1216.1,925.6 L1218.5,926.8 L1221,928 L1223.5,929.2 L1226.1,930.4 L1228.7,931.5 L1231.3,932.7 L1234,933.8 L1234,859.8 L1234.1,860 L1234.2,860.5 L1234.5,861.2 L1234.8,862.1 L1235.2,863.2 L1235.7,864.4 L1236.2,865.7 L1236.8,867.1 L1237.4,868.5 L1238.2,870 L1238.9,871.5 L1239.8,873.1 L1240.7,874.7 L1241.6,876.2 L1242.6,877.8 L1243.7,879.4 L1244.8,881 L1246,882.5 L1247.2,884.1 L1248.5,885.6 L1249.8,887.1 L1251.2,888.6 L1252.6,890.1 L1254.1,891.6 L1255.6,893 L1257.2,894.4 L1258.9,895.9 L1260.5,897.3 L1262.3,898.7 L1264.1,900 L1265.9,901.4 L1267.8,902.7 L1269.7,904 L1271.6,905.4 L1273.7,906.7 L1275.7,908 L1277.8,909.2 L1280,910.5 L1282.2,911.7 L1284.4,913 L1286.7,914.2 L1289.1,915.4 L1291.5,916.6 L1293.9,917.8 L1296.4,919 L1298.9,920.1 L1301.4,921.3 L1304,922.4 L1306.7,923.6 L1309.4,924.7 L1309.4,902.4 L1309.5,902.6 L1309.8,903 L1310.3,903.7 L1311,904.5 L1311.8,905.4 L1312.7,906.5 L1313.8,907.6 L1314.9,908.8 L1316.3,910 L1317.7,911.3 L1319.3,912.6 L1320.9,913.9 L1322.7,915.2 L1324.6,916.6 L1326.6,917.9 L1328.8,919.3 L1331,920.7 L1333.3,922.1 L1335.8,923.5 L1338.3,924.9 L1341,926.3 L1343.8,927.7 L1346.6,929.1 L1349.6,930.6 L1352.7,932 L1355.8,933.4 L1359.1,934.8 L1362.5,936.2 L1365.9,937.7 L1369.5,939.1 L1373.1,940.5 L1376.9,941.9 L1380.7,943.3 L1384.7,944.7 L1388.7,946.1 L1392.8,947.5 L1397,948.9 L1401.4,950.3 L1405.8,951.6 L1410.3,953 L1414.8,954.4 L1419.5,955.7 L1424.3,957.1 L1429.1,958.4 L1434.1,959.7 L1439.1,961 L1444.2,962.4 L1449.4,963.7 L1454.7,965 L1460.1,966.2 L1460.1,948 L1460.2,948.1 L1460.4,948.2 L1460.6,948.5 L1460.9,948.8 L1461.3,949.1 L1461.8,949.5 L1462.3,950 L1462.9,950.4 L1463.6,950.9 L1464.3,951.5 L1465.1,952 L1465.9,952.5 L1466.8,953.1 L1467.7,953.6 L1468.8,954.2 L1469.8,954.8 L1470.9,955.3 L1472.1,955.9 L1473.3,956.5 L1474.6,957 L1475.9,957.6 L1477.3,958.2 L1478.8,958.7 L1480.2,959.3 L1481.8,959.9 L1483.4,960.4 L1485,961 L1486.7,961.5 L1488.4,962.1 L1490.2,962.7 L1492,963.2 L1493.9,963.8 L1495.8,964.3 L1497.8,964.9 L1499.8,965.5 L1501.9,966 L1504,966.6 L1506.1,967.1 L1508.3,967.7 L1510.6,968.3 L1512.9,968.8 L1515.2,969.4 L1517.6,969.9 L1520,970.5 L1522.5,971 L1525,971.6 L1527.6,972.2 L1530.2,972.7 L1532.8,973.3 L1535.5,973.8 L1535.5,901.4 L1535.5,901.4 L1535.6,901.6 L1535.7,901.8 L1535.8,902.1 L1536,902.5 L1536.2,902.9 L1536.4,903.3 L1536.6,903.8 L1536.9,904.3 L1537.2,904.9 L1537.5,905.5 L1537.8,906.1 L1538.2,906.7 L1538.5,907.4 L1539,908 L1539.4,908.7 L1539.8,909.4 L1540.3,910 L1540.8,910.7 L1541.3,911.4 L1541.8,912.1 L1542.4,912.8 L1543,913.5 L1543.5,914.2 L1544.2,914.8 L1544.8,915.5 L1545.4,916.2 L1546.1,916.8 L1546.8,917.5 L1547.5,918.1 L1548.3,918.8 L1549,919.4 L1549.8,920.1 L1550.6,920.7 L1551.4,921.3 L1552.2,921.9 L1553,922.5 L1553.9,923.1 L1554.8,923.7 L1555.7,924.3 L1556.6,924.8 L1557.5,925.4 L1558.5,926 L1559.5,926.5 L1560.4,927.1 L1561.4,927.6 L1562.5,928.2 L1563.5,928.7 L1564.6,929.2 L1565.7,929.8" fill="none" stroke="#000" stroke-width="4" stroke-linejoin="round"/>
<path d="M932.5,1109.1 L932.5,1070.1 L932.6,1070.2 L932.7,1070.4 L933,1070.7 L933.3,1071 L933.7,1071.5 L934.2,1071.9 L934.7,1072.5 L935.3,1073.1 L935.9,1073.7 L936.7,1074.4 L937.4,1075.1 L938.3,1075.8 L939.2,1076.5 L940.1,1077.3 L941.1,1078 L942.2,1078.8 L943.3,1079.6 L944.5,1080.3 L945.7,1081.1 L947,1081.8 L948.3,1082.6 L949.7,1083.3 L951.1,1084.1 L952.6,1084.8 L954.1,1085.5 L955.7,1086.2 L957.4,1086.9 L959,1087.6 L960.8,1088.3 L962.6,1088.9 L964.4,1089.6 L966.3,1090.2 L968.2,1090.8 L970.1,1091.4 L972.2,1092 L974.2,1092.6 L976.3,1093.1 L978.5,1093.7 L980.7,1094.2 L982.9,1094.8 L985.2,1095.3 L987.6,1095.8 L990,1096.3 L992.4,1096.8 L994.9,1097.3 L997.4,1097.7 L999.9,1098.2 L1002.5,1098.6 L1005.2,1099.1 L1007.9,1099.5 L1007.9,975.4 L1007.9,975.5 L1008.1,975.8 L1008.4,976.3 L1008.7,976.9 L1009.1,977.6 L1009.5,978.5 L1010.1,979.4 L1010.7,980.5 L1011.3,981.6 L1012,982.7 L1012.8,983.9 L1013.7,985.2 L1014.5,986.5 L1015.5,987.8 L1016.5,989.1 L1017.6,990.5 L1018.7,991.9 L1019.9,993.2 L1021.1,994.6 L1022.4,995.9 L1023.7,997.3 L1025.1,998.7 L1026.5,1000 L1028,1001.3 L1029.5,1002.6 L1031.1,1003.9 L1032.7,1005.2 L1034.4,1006.5 L1036.1,1007.7 L1037.9,1008.9 L1039.8,1010.1 L1041.6,1011.3 L1043.6,1012.5 L1045.5,1013.6 L1047.5,1014.8 L1049.6,1015.9 L1051.7,1017 L1053.9,1018.1 L1056.1,1019.1 L1058.3,1020.1 L1060.6,1021.2 L1062.9,1022.2 L1065.3,1023.2 L1067.8,1024.1 L1070.2,1025.1 L1072.7,1026 L1075.3,1026.9 L1077.9,1027.8 L1080.6,1028.7 L1083.2,1029.6 L1083.2,886.2 L1083.3,886.3 L1083.5,886.7 L1083.7,887.4 L1084,888.1 L1084.4,889.1 L1084.9,890.2 L1085.4,891.4 L1086,892.7 L1086.7,894.1 L1087.4,895.6 L1088.2,897.1 L1089,898.8 L1089.9,900.4 L1090.9,902.1 L1091.9,903.9 L1092.9,905.6 L1094.1,907.4 L1095.2,909.2 L1096.5,911 L1097.7,912.8 L1099.1,914.6 L1100.4,916.3 L1101.9,918.1 L1103.4,919.9 L1104.9,921.6 L1106.5,923.4 L1108.1,925.1 L1109.8,926.8 L1111.5,928.5 L1113.3,930.2 L1115.1,931.8 L1117,933.4 L1118.9,935 L1120.9,936.6 L1122.9,938.2 L1125,939.7 L1127.1,941.2 L1129.2,942.7 L1131.4,944.2 L1133.7,945.7 L1136,947.1 L1138.3,948.5 L1140.7,949.9 L1143.1,951.3 L1145.6,952.7 L1148.1,954 L1150.7,955.3 L1153.3,956.6 L1155.9,957.9 L1158.6,959.1 L1158.6,836.5 L1158.7,836.7 L1158.9,837.1 L1159.1,837.6 L1159.4,838.4 L1159.8,839.3 L1160.3,840.3 L1160.8,841.4 L1161.4,842.7 L1162.1,844 L1162.8,845.4 L1163.6,846.9 L1164.4,848.5 L1165.3,850.1 L1166.2,851.7 L1167.3,853.4 L1168.3,855.1 L1169.4,856.9 L1170.6,858.6 L1171.8,860.4 L1173.1,862.2 L1174.4,863.9 L1175.8,865.7 L1177.3,867.5 L1178.7,869.2 L1180.3,871 L1181.9,872.8 L1183.5,874.5 L1185.2,876.2 L1186.9,878 L1188.7,879.7 L1190.5,881.4 L1192.4,883 L1194.3,884.7 L1196.3,886.3 L1198.3,888 L1200.4,889.6 L1202.5,891.2 L1204.6,892.8 L1206.8,894.3 L1209.1,895.9 L1211.4,897.4 L1213.7,898.9 L1216.1,900.4 L1218.5,901.9 L1221,903.4 L1223.5,904.8 L1226.1,906.3 L1228.7,907.7 L1231.3,909.1 L1234,910.5 L1234,839.5 L1234.1,839.7 L1234.2,840 L1234.5,840.4 L1234.8,840.9 L1235.2,841.6 L1235.7,842.4 L1236.2,843.2 L1236.8,844.2 L1237.4,845.2 L1238.2,846.3 L1238.9,847.4 L1239.8,848.6 L1240.7,849.8 L1241.6,851.1 L1242.6,852.4 L1243.7,853.8 L1244.8,855.1 L1246,856.5 L1247.2,857.9 L1248.5,859.3 L1249.8,860.8 L1251.2,862.2 L1252.6,863.6 L1254.1,865.1 L1255.6,866.5 L1257.2,868 L1258.9,869.4 L1260.5,870.9 L1262.3,872.3 L1264.1,873.8 L1265.9,875.2 L1267.8,876.7 L1269.7,878.1 L1271.6,879.5 L1273.7,881 L1275.7,882.4 L1277.8,883.8 L1280,885.2 L1282.2,886.6 L1284.4,888 L1286.7,889.3 L1289.1,890.7 L1291.5,892.1 L1293.9,893.4 L1296.4,894.8 L1298.9,896.1 L1301.4,897.4 L1304,898.8 L1306.7,900.1 L1309.4,901.4 L1309.4,881.1 L1309.5,881.2 L1309.8,881.5 L1310.3,882 L1311,882.6 L1311.8,883.2 L1312.7,884 L1313.8,884.9 L1314.9,885.9 L1316.3,886.9 L1317.7,888 L1319.3,889.2 L1320.9,890.4 L1322.7,891.6 L1324.6,892.9 L1326.6,894.3 L1328.8,895.6 L1331,897 L1333.3,898.4 L1335.8,899.8 L1338.3,901.3 L1341,902.7 L1343.8,904.2 L1346.6,905.7 L1349.6,907.2 L1352.7,908.7 L1355.8,910.2 L1359.1,911.7 L1362.5,913.2 L1365.9,914.7 L1369.5,916.2 L1373.1,917.8 L1376.9,919.3 L1380.7,920.8 L1384.7,922.3 L1388.7,923.9 L1392.8,925.4 L1397,926.9 L1401.4,928.4 L1405.8,929.9 L1410.3,931.4 L1414.8,932.9 L1419.5,934.4 L1424.3,935.8 L1429.1,937.3 L1434.1,938.8 L1439.1,940.2 L1444.2,941.7 L1449.4,943.1 L1454.7,944.5 L1460.1,946 L1460.1,925.7 L1460.2,925.7 L1460.4,925.9 L1460.6,926 L1460.9,926.2 L1461.3,926.5 L1461.8,926.8 L1462.3,927.1 L1462.9,927.5 L1463.6,927.9 L1464.3,928.3 L1465.1,928.8 L1465.9,929.3 L1466.8,929.8 L1467.7,930.3 L1468.8,930.8 L1469.8,931.4 L1470.9,932 L1472.1,932.5 L1473.3,933.1 L1474.6,933.7 L1475.9,934.3 L1477.3,935 L1478.8,935.6 L1480.2,936.2 L1481.8,936.9 L1483.4,937.5 L1485,938.2 L1486.7,938.8 L1488.4,939.5 L1490.2,940.1 L1492,940.8 L1493.9,941.5 L1495.8,942.2 L1497.8,942.8 L1499.8,943.5 L1501.9,944.2 L1504,944.9 L1506.1,945.6 L1508.3,946.3 L1510.6,947 L1512.9,947.7 L1515.2,948.4 L1517.6,949.1 L1520,949.8 L1522.5,950.5 L1525,951.2 L1527.6,951.9 L1530.2,952.6 L1532.8,953.4 L1535.5,954.1 L1535.5,881.1 L1535.5,881.1 L1535.6,881.2 L1535.7,881.4 L1535.8,881.6 L1536,881.8 L1536.2,882.1 L1536.4,882.3 L1536.6,882.7 L1536.9,883 L1537.2,883.4 L1537.5,883.8 L1537.8,884.3 L1538.2,884.7 L1538.5,885.2 L1539,885.7 L1539.4,886.2 L1539.8,886.8 L1540.3,887.3 L1540.8,887.9 L1541.3,888.4 L1541.8,889 L1542.4,889.6 L1543,890.2 L1543.5,890.8 L1544.2,891.4 L1544.8,892.1 L1545.4,892.7 L1546.1,893.3 L1546.8,894 L1547.5,894.6 L1548.3,895.3 L1549,895.9 L1549.8,896.5 L1550.6,897.2 L1551.4,897.8 L1552.2,898.5 L1553,899.1 L1553.9,899.8 L1554.8,900.4 L1555.7,901.1 L1556.6,901.7 L1557.5,902.4 L1558.5,903 L1559.5,903.7 L1560.4,904.3 L1561.4,904.9 L1562.5,905.6 L1563.5,906.2 L1564.6,906.8 L1565.7,907.5" fill="none" stroke="#e60012" stroke-width="3.8" stroke-linejoin="round"/>
<rect x="902.1" y="636.6" width="664.2" height="507" fill="none" stroke="#1a1a1a" stroke-width="1.8"/>
<path d="M902.1,1092.9h4.5M902.1,1042.2h9.5M902.1,991.6h4.5M902.1,940.9h9.5M902.1,890.2h4.5M902.1,839.5h9.5M902.1,788.9h4.5M902.1,738.2h9.5M902.1,687.5h4.5M932.5,1143.6v-9.5M1234,1143.6v-9.5M1535.5,1143.6v-9.5M1083.2,1143.6v-4.5M1384.8,1143.6v-4.5" fill="none" stroke="#1a1a1a" stroke-width="1.7"/>
<text x="873.2" y="1152.9" font-size="32" textLength="18.2" lengthAdjust="spacingAndGlyphs" stroke="#000" stroke-width="0.5">0</text>
<text x="873.2" y="1051.5" font-size="32" textLength="18.2" lengthAdjust="spacingAndGlyphs" stroke="#000" stroke-width="0.5">1</text>
<text x="873.2" y="950.2" font-size="32" textLength="18.2" lengthAdjust="spacingAndGlyphs" stroke="#000" stroke-width="0.5">2</text>
<text x="873.2" y="848.8" font-size="32" textLength="18.2" lengthAdjust="spacingAndGlyphs" stroke="#000" stroke-width="0.5">3</text>
<text x="873.2" y="747.5" font-size="32" textLength="18.2" lengthAdjust="spacingAndGlyphs" stroke="#000" stroke-width="0.5">4</text>
<text x="873.2" y="645.1" font-size="32" textLength="18.2" lengthAdjust="spacingAndGlyphs" stroke="#000" stroke-width="0.5">5</text>
<text x="921.9" y="1180.8" font-size="32.3" textLength="19.7" lengthAdjust="spacingAndGlyphs" stroke="#000" stroke-width="0.5">0</text>
<text x="1187.5" y="1180.8" font-size="32.3" textLength="93.8" lengthAdjust="spacingAndGlyphs" stroke="#000" stroke-width="0.5">50000</text>
<text x="1477.7" y="1180.8" font-size="32.3" textLength="114.3" lengthAdjust="spacingAndGlyphs" stroke="#000" stroke-width="0.5">100000</text>
<text x="1191.8" y="1252" font-size="35.5" textLength="83.4" lengthAdjust="spacingAndGlyphs" stroke="#000" stroke-width="0.5">t (ps)</text>
<g transform="translate(850.4 0) rotate(-90)">
<text x="-953.3" y="0" font-size="35" textLength="40.2" lengthAdjust="spacingAndGlyphs" stroke="#000" stroke-width="0.5">ΔT</text>
<text x="-912.6" y="10.6" font-size="24" textLength="33.4" lengthAdjust="spacingAndGlyphs" stroke="#000" stroke-width="0.5">ave</text>
<text x="-868.4" y="0" font-size="35" textLength="41" lengthAdjust="spacingAndGlyphs" stroke="#000" stroke-width="0.5">(K)</text>
</g>
<path d="M953,694.9H1049.6" stroke="#000" stroke-width="3.6" stroke-linecap="round" fill="none"/>
<path d="M953,749.1H1049.6" stroke="#e60012" stroke-width="3.6" stroke-linecap="round" fill="none"/>
<text x="1059.2" y="708.8" font-size="35" textLength="116.7" lengthAdjust="spacingAndGlyphs" stroke="#000" stroke-width="0.5">Fourier</text>
<text x="1059.7" y="762.8" font-size="34.5" textLength="59.3" lengthAdjust="spacingAndGlyphs" stroke="#000" stroke-width="0.5">BTE</text>
<rect x="1302.1" y="636.6" width="264.2" height="203.2" fill="#fff"/>
<g clip-path="url(#cins)">
<path d="M1302.1,671.8 L1303,681.9 L1302.3,682.2 L1302.9,682.7 L1303.8,683.4 L1304.9,684.4 L1306.3,685.5 L1307.9,686.8 L1309.8,688.2 L1311.9,689.7 L1314.2,691.3 L1316.7,693 L1319.4,694.7 L1322.3,696.5 L1325.5,698.3 L1328.8,700.1 L1332.4,701.9 L1336.1,703.8 L1340,705.6 L1344.1,707.4 L1348.4,709.1 L1352.9,710.9 L1357.5,712.6 L1362.4,714.3 L1367.4,715.9 L1372.6,717.5 L1378,719.1 L1383.5,720.7 L1389.2,722.2 L1395.1,723.7 L1401.2,725.1 L1407.4,726.5 L1413.8,727.9 L1420.4,729.2 L1427.2,730.5 L1434.1,731.8 L1441.1,733.1 L1448.4,734.3 L1455.8,735.5 L1463.3,736.6 L1471,737.7 L1478.9,738.8 L1486.9,739.9 L1495.1,740.9 L1503.5,742 L1512,743 L1520.7,743.9 L1529.5,744.9 L1538.5,745.8 L1547.6,746.7 L1556.9,747.6 L1566.3,748.5 V636.6" fill="none" stroke="#000" stroke-width="2.8" stroke-linejoin="round"/>
<path d="M1302.1,763.1 L1302.1,679.2 L1302.3,679.4 L1302.9,679.8 L1303.8,680.3 L1304.9,681.1 L1306.3,681.9 L1307.9,682.9 L1309.8,684 L1311.9,685.2 L1314.2,686.5 L1316.7,687.8 L1319.4,689.2 L1322.3,690.7 L1325.5,692.2 L1328.8,693.7 L1332.4,695.2 L1336.1,696.8 L1340,698.3 L1344.1,699.8 L1348.4,701.4 L1352.9,702.9 L1357.5,704.4 L1362.4,705.9 L1367.4,707.4 L1372.6,708.9 L1378,710.3 L1383.5,711.7 L1389.2,713.1 L1395.1,714.5 L1401.2,715.8 L1407.4,717.2 L1413.8,718.5 L1420.4,719.7 L1427.2,721 L1434.1,722.2 L1441.1,723.4 L1448.4,724.6 L1455.8,725.7 L1463.3,726.8 L1471,727.9 L1478.9,729 L1486.9,730 L1495.1,731.1 L1503.5,732.1 L1512,733.1 L1520.7,734 L1529.5,735 L1538.5,735.9 L1547.6,736.8 L1556.9,737.7 L1566.3,738.6 V636.6" fill="none" stroke="#e60012" stroke-width="2.6"/>
</g>
<path d="M1302.1,636.6V839.8H1566.3" fill="none" stroke="#222" stroke-width="1.3"/>
<path d="M1302.1,763.1V679.7" fill="none" stroke="#e60012" stroke-width="1.3"/>
<path d="M902.1,636.6H1566.3" fill="none" stroke="#1a1a1a" stroke-width="1.8"/>
<path d="M1566.3,748.5V1143.6" fill="none" stroke="#1a1a1a" stroke-width="1.8"/>
<path d="M1302.1,839.8h-4.5M1302.1,817.2h-2.5M1302.1,794.7h-4.5M1302.1,772.1h-2.5M1302.1,749.6h-4.5M1302.1,727h-2.5M1302.1,704.5h-4.5M1302.1,681.9h-2.5M1302.1,659.4h-4.5M1302.1,839.8v3.5M1407.8,839.8v3.5M1513.5,839.8v3.5M1354.9,839.8v2M1460.6,839.8v2M1566.3,839.8v2" fill="none" stroke="#222" stroke-width="1.3"/>
<text x="1261.6" y="845.1" font-size="23.3" textLength="32.3" lengthAdjust="spacingAndGlyphs" stroke="#000" stroke-width="0.35">0.0</text>
<text x="1261.6" y="800" font-size="23.3" textLength="32.6" lengthAdjust="spacingAndGlyphs" stroke="#000" stroke-width="0.35">0.2</text>
<text x="1261.6" y="754.9" font-size="23.3" textLength="32" lengthAdjust="spacingAndGlyphs" stroke="#000" stroke-width="0.35">0.4</text>
<text x="1261.6" y="709.8" font-size="23.3" textLength="32.4" lengthAdjust="spacingAndGlyphs" stroke="#000" stroke-width="0.35">0.6</text>
<text x="1261.6" y="664.7" font-size="23.3" textLength="32.4" lengthAdjust="spacingAndGlyphs" stroke="#000" stroke-width="0.35">0.8</text>
<text x="1294.3" y="864.2" font-size="23.3" textLength="13.5" lengthAdjust="spacingAndGlyphs" stroke="#000" stroke-width="0.35">0</text>
<text x="1380.9" y="864.2" font-size="23.3" textLength="52.7" lengthAdjust="spacingAndGlyphs" stroke="#000" stroke-width="0.35">5000</text>
<text x="1479.8" y="864.2" font-size="23.3" textLength="66.7" lengthAdjust="spacingAndGlyphs" stroke="#000" stroke-width="0.35">10000</text>
<text x="1406.1" y="904" font-size="23.6" textLength="55.7" lengthAdjust="spacingAndGlyphs" stroke="#000" stroke-width="0.35">t (ps)</text>
<g transform="translate(1247.1 0) rotate(-90)">
<text x="-782.5" y="0" font-size="24.5" textLength="29.1" lengthAdjust="spacingAndGlyphs" stroke="#000" stroke-width="0.35">ΔT</text>
<text x="-753.1" y="6.7" font-size="16.5" textLength="24.6" lengthAdjust="spacingAndGlyphs" stroke="#000" stroke-width="0.3">ave</text>
<text x="-720.7" y="0" font-size="24.5" textLength="27.3" lengthAdjust="spacingAndGlyphs" stroke="#000" stroke-width="0.35">(K)</text>
</g>
</g>
</svg>
</body>
</html>
